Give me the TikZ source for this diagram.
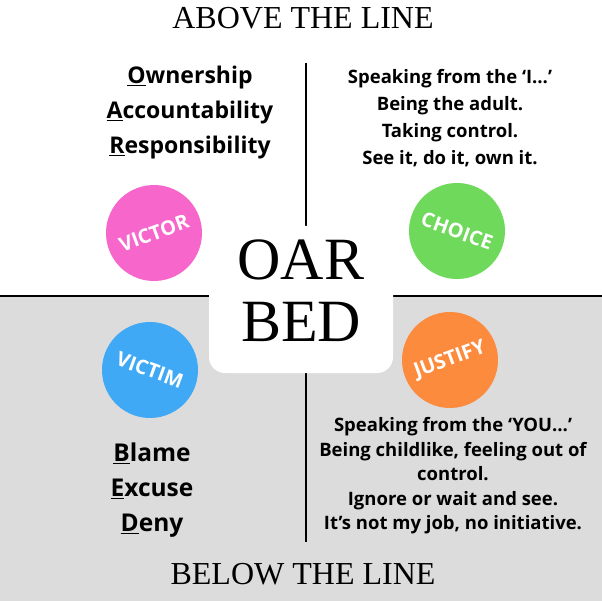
\documentclass[tikz,border=0pt]{standalone}
\usepackage{fontspec}
\setmainfont{Open Sans}
\newfontfamily\titlefont{Liberation Serif}
\usetikzlibrary{positioning}
\definecolor{bggray}{HTML}{DCDCDC}
\definecolor{cpink}{HTML}{F766CB}
\definecolor{cgreen}{HTML}{6FD95B}
\definecolor{cblue}{HTML}{3FA9F5}
\definecolor{corange}{HTML}{FD8B3E}
\tikzset{
  title/.style={font=\titlefont\fontsize{32}{32}\selectfont, text=black, inner sep=0},
  bigword/.style={font=\titlefont\fontsize{60}{62}\selectfont, align=center, inner sep=0},
  leftlist/.style={font=\bfseries\fontsize{23}{35}\selectfont, align=center, inner sep=0},
  leftlistb/.style={font=\bfseries\fontsize{24.5}{35}\selectfont, align=center, inner sep=0},
  rightlist/.style={font=\bfseries\fontsize{18.5}{27}\selectfont, align=center, inner sep=0},
  rightlistb/.style={font=\bfseries\fontsize{18.5}{24.5}\selectfont, align=center, inner sep=0},
  badge/.style={circle, minimum size=96pt, inner sep=0, fill=#1,
    font=\bfseries\fontsize{20}{20}\selectfont, text=white},
  divider/.style={line width=1.8pt, black},
}
\newcommand{\ul}[1]{\underline{#1}}
\begin{document}
\begin{tikzpicture}[x=1pt,y=-1pt]
\useasboundingbox (0,0) rectangle (602,601);
\fill[white] (0,0) rectangle (602,296);
\fill[bggray] (0,296) rectangle (602,601);
\draw[divider] (0,296) -- (602,296);
\draw[divider] (306,63) -- (306,542);
\node[fill=white, rounded corners=16pt, minimum width=184pt, minimum height=147pt, inner sep=0] (box) at (301,299.5) {};
\node[bigword] (oar) at (301,291) {OAR\\BED};

\node[title] (above) at (303,18) {ABOVE THE LINE};
\node[title] (below) at (303,574) {BELOW THE LINE};

\node[leftlist] (own) at (190,113) {\ul{O}wnership\\\ul{A}ccountability\\\ul{R}esponsibility};
\node[rightlist] (speak) at (450,118) {Speaking from the ‘I…’\\Being the adult.\\Taking control.\\See it, do it, own it.};

\node[badge=cpink, rotate=20] (victor) at (154,233) {VICTOR};
\node[badge=cgreen, rotate=-20] (choice) at (457,231) {CHOICE};
\node[badge=cblue, rotate=-20] (victim) at (150,370) {VICTIM};
\node[badge=corange, rotate=20] (justify) at (450,360) {JUSTIFY};

\node[leftlistb] (blame) at (152,490) {\ul{B}lame\\\ul{E}xcuse\\\ul{D}eny};
\node[rightlistb] (you) at (453,476) {Speaking from the ‘YOU…’\\Being childlike, feeling out of\\control.\\Ignore or wait and see.\\It’s not my job, no initiative.};
\end{tikzpicture}
\end{document}
